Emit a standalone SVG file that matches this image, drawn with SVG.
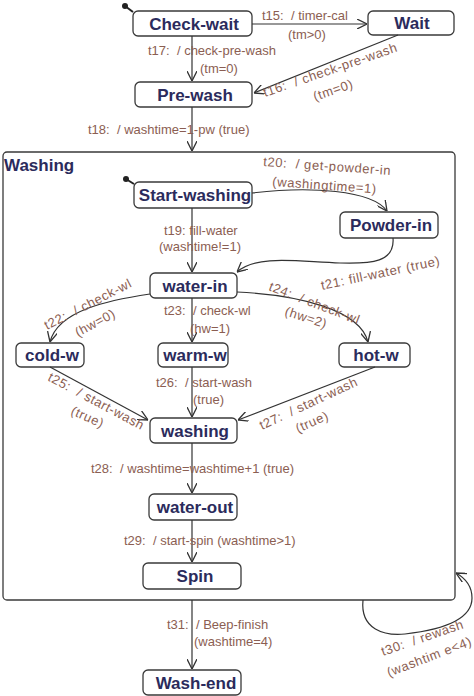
<svg xmlns="http://www.w3.org/2000/svg" width="474" height="696" viewBox="0 0 474 696">
<style>
.n rect{fill:#fff;stroke:#3a3a3a;stroke-width:1.3}
.n text{font-family:"Liberation Sans",Arial,sans-serif;font-weight:bold;font-size:17px;fill:#2b2b5c;text-anchor:middle}
.l{font-family:"Liberation Sans",Arial,sans-serif;font-size:13px;fill:#8b5e52;white-space:pre}
.r{letter-spacing:0.6px}
.c path,.c line{fill:none;stroke:#333;stroke-width:1.2;marker-end:url(#a)}
</style>
<defs>
<marker id="a" viewBox="0 0 10 10" markerWidth="10" markerHeight="10" refX="10" refY="5" orient="auto" markerUnits="userSpaceOnUse">
<path d="M0,0 L10,5 L0,10" fill="none" stroke="#333" stroke-width="1.3"/>
</marker>
</defs>
<rect width="474" height="696" fill="#fff"/>
<g id="Washing" class="n">
<rect x="3" y="152" width="452" height="448" rx="4"/>
<text x="4" y="171" style="text-anchor:start">Washing</text>
</g>
<g id="init1"><circle cx="125" cy="6" r="3" fill="#222"/><line x1="125" y1="6" x2="133" y2="12" stroke="#222" stroke-width="2"/></g>
<g id="init2"><circle cx="126" cy="179" r="3" fill="#222"/><line x1="126" y1="179" x2="134" y2="184" stroke="#222" stroke-width="2"/></g>
<g id="CheckWait" class="n"><rect x="133" y="11" width="119" height="25" rx="5"/><text x="194" y="30">Check-wait</text></g>
<g id="Wait" class="n"><rect x="368" y="11" width="86" height="24" rx="5"/><text x="412" y="29">Wait</text></g>
<g id="PreWash" class="n"><rect x="135" y="82" width="117" height="25" rx="5"/><text x="195" y="101">Pre-wash</text></g>
<g id="StartWashing" class="n"><rect x="134" y="182" width="118" height="26" rx="5"/><text x="195" y="201">Start-washing</text></g>
<g id="PowderIn" class="n"><rect x="340" y="212" width="98" height="26" rx="5"/><text x="391" y="231">Powder-in</text></g>
<g id="WaterIn" class="n"><rect x="150" y="273" width="87" height="25" rx="5"/><text x="195" y="292">water-in</text></g>
<g id="ColdW" class="n"><rect x="16" y="343" width="68" height="24" rx="5"/><text x="52" y="361">cold-w</text></g>
<g id="WarmW" class="n"><rect x="158" y="343" width="70" height="24" rx="5"/><text x="195" y="361">warm-w</text></g>
<g id="HotW" class="n"><rect x="339" y="343" width="71" height="24" rx="5"/><text x="376" y="361">hot-w</text></g>
<g id="WashingState" class="n"><rect x="150" y="418" width="87" height="25" rx="5"/><text x="195" y="437">washing</text></g>
<g id="WaterOut" class="n"><rect x="149" y="494" width="88" height="26" rx="5"/><text x="195" y="513">water-out</text></g>
<g id="Spin" class="n"><rect x="143" y="563" width="98" height="26" rx="5"/><text x="195" y="582">Spin</text></g>
<g id="WashEnd" class="n"><rect x="143" y="670" width="98" height="25" rx="5"/><text x="196" y="689">Wash-end</text></g>
<g id="connectors" class="c">
<line x1="252" y1="24" x2="367" y2="24"/>
<line x1="192" y1="36" x2="192" y2="81"/>
<line x1="398" y1="35" x2="254" y2="93"/>
<line x1="192" y1="107" x2="192" y2="151"/>
<path d="M252,193 C310,186 372,190 387,211"/>
<line x1="192" y1="208" x2="192" y2="272"/>
<path d="M393,238 C395,262 372,264 340,263 C300,262 258,254 237,272"/>
<path d="M150,294 C110,300 58,310 50,342"/>
<line x1="192" y1="298" x2="192" y2="342"/>
<path d="M237,292 C300,295 360,310 368,342"/>
<line x1="50" y1="367" x2="148" y2="420"/>
<line x1="192" y1="367" x2="192" y2="417"/>
<line x1="375" y1="367" x2="238" y2="420"/>
<line x1="192" y1="443" x2="192" y2="493"/>
<line x1="192" y1="520" x2="192" y2="562"/>
<path d="M363,600 C360,630 385,636 405,634 C440,630 472,620 472,598 C472,585 465,578 456,573"/>
<line x1="192" y1="600" x2="192" y2="669"/>
</g>
<g id="labels">
<text class="l" x="262" y="20">t15:  / timer-cal</text>
<text class="l" x="288" y="39">(tm&gt;0)</text>
<text class="l" x="148" y="55">t17:  / check-pre-wash</text>
<text class="l" x="200" y="73">(tm=0)</text>
<text class="l r" transform="translate(265,97) rotate(-19)">t16:  / check-pre-wash</text>
<text class="l r" transform="translate(315,101) rotate(-19)">(tm=0)</text>
<text class="l" x="88" y="134">t18:  / washtime=1-pw (true)</text>
<text class="l r" transform="translate(263,166) rotate(4)">t20:  / get-powder-in</text>
<text class="l r" transform="translate(272,186) rotate(4)">(washingtime=1)</text>
<text class="l" x="164" y="235">t19: fill-water</text>
<text class="l" x="159" y="251">(washtime!=1)</text>
<text class="l r" transform="translate(322,290) rotate(-12)">t21: fill-water (true)</text>
<text class="l r" transform="translate(47,330) rotate(-27)">t22:  / check-wl</text>
<text class="l r" transform="translate(78,337) rotate(-28)">(hw=0)</text>
<text class="l" x="164" y="315">t23:  / check-wl</text>
<text class="l" x="190" y="333">(hw=1)</text>
<text class="l r" transform="translate(268,290) rotate(21)">t24:  / check-wl</text>
<text class="l r" transform="translate(284,315) rotate(18)">(hw=2)</text>
<text class="l r" transform="translate(47,380) rotate(28)">t25:  / start-wash</text>
<text class="l r" transform="translate(70,414) rotate(24)">(true)</text>
<text class="l" x="156" y="387">t26:  / start-wash</text>
<text class="l" x="193" y="404">(true)</text>
<text class="l r" transform="translate(262,430) rotate(-25)">t27:  / start-wash</text>
<text class="l r" transform="translate(298,433) rotate(-24)">(true)</text>
<text class="l" x="91" y="473">t28:  / washtime=washtime+1 (true)</text>
<text class="l" x="124" y="545">t29:  / start-spin (washtime&gt;1)</text>
<text class="l" x="167" y="629">t31:  / Beep-finish</text>
<text class="l" x="194" y="646">(washtime=4)</text>
<text class="l r" transform="translate(383,656) rotate(-19)">t30:  / rewash</text>
<text class="l r" transform="translate(389,677) rotate(-21)">(washtim e&lt;4)</text>
</g>
</svg>
